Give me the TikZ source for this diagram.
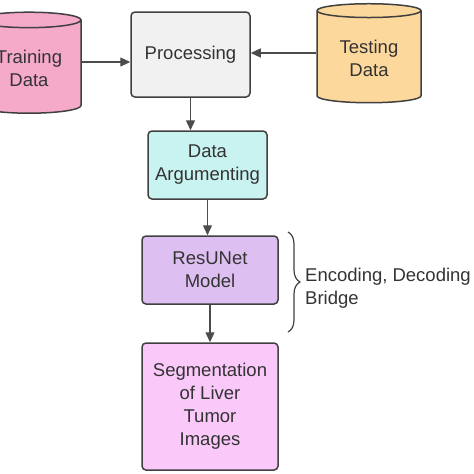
\documentclass[tikz,border=0pt]{standalone}
\usepackage{fontspec}
\setmainfont{Liberation Sans}
\usetikzlibrary{arrows.meta, shapes.geometric, decorations.pathreplacing}

\begin{document}
\begin{tikzpicture}[
    x=1pt, y=-1pt,
    every node/.style={font=\fontsize{18.5}{23}\selectfont, text=black!80},
    % Estilo para las cajas del flujo
    caja/.style={
        draw=black!75, line width=1.5pt, rounded corners=4pt,
        align=center, inner sep=2pt
    },
    % Estilo para los cilindros de datos
    cilindro/.style={
        draw=black!75, line width=1.5pt, cylinder, shape border rotate=90,
        aspect=0.22, align=center, inner sep=2pt
    },
    % Estilo para las flechas
    flecha/.style={
        line width=1.3pt, black!70, -{Triangle[length=10pt, width=9pt]}
    }
]
    % --- DEFINICIÓN DE COLORES ---
    \definecolor{rosaTrain}{RGB}{246, 170, 202}
    \definecolor{naranjaTest}{RGB}{253, 216, 156}
    \definecolor{grisProc}{RGB}{240, 241, 240}
    \definecolor{cianAug}{RGB}{201, 243, 240}
    \definecolor{lilaModelo}{RGB}{221, 191, 241}
    \definecolor{rosaSeg}{RGB}{250, 201, 250}

    \useasboundingbox (0, 0) rectangle (474, 474);

    % 1. Datos de entrada
    \node[cilindro, fill=rosaTrain, minimum width=104pt, minimum height=101pt]
        (train) at (29, 68) {Training\\Data};
    \node[cilindro, fill=naranjaTest, minimum width=104pt, minimum height=99pt]
        (test) at (369, 58) {Testing\\Data};

    % 2. Cajas del flujo
    \node[caja, fill=grisProc, minimum width=119pt, minimum height=85pt]
        (proc) at (190.5, 54.5) {Processing};
    \node[caja, fill=cianAug, minimum width=119pt, minimum height=68pt]
        (aug) at (207.5, 165) {Data\\Argumenting};
    \node[caja, fill=lilaModelo, minimum width=136pt, minimum height=68pt]
        (res) at (210, 270) {ResUNet\\Model};
    \node[caja, fill=rosaSeg, minimum width=136pt, minimum height=127pt]
        (seg) at (210, 406.5) {Segmentation\\of Liver\\Tumor\\Images};

    % 3. Flechas
    \coordinate (entTrain) at ([yshift=6pt]train.east);
    \coordinate (entTest) at ([yshift=5pt]test.west);
    \draw[flecha] (entTrain) -- (entTrain -| proc.west);
    \draw[flecha] (entTest) -- (entTest -| proc.east);
    \draw[flecha] (proc.south) -- (proc.south |- aug.north);
    \draw[flecha] (aug.south) -- (aug.south |- res.north);
    \draw[flecha] (res.south) -- (seg.north);

    % 4. Llave y etiqueta
    \coordinate (llaveA) at (288, 232);
    \coordinate (llaveB) at (288, 332);
    \draw[line width=1.2pt, black!75, decorate,
        decoration={brace, amplitude=12pt}] (llaveA) -- (llaveB);
    \node[anchor=west, align=left, inner sep=0pt] (etiq) at (305, 288)
        {Encoding, Decoding and\\Bridge};

\end{tikzpicture}
\end{document}
